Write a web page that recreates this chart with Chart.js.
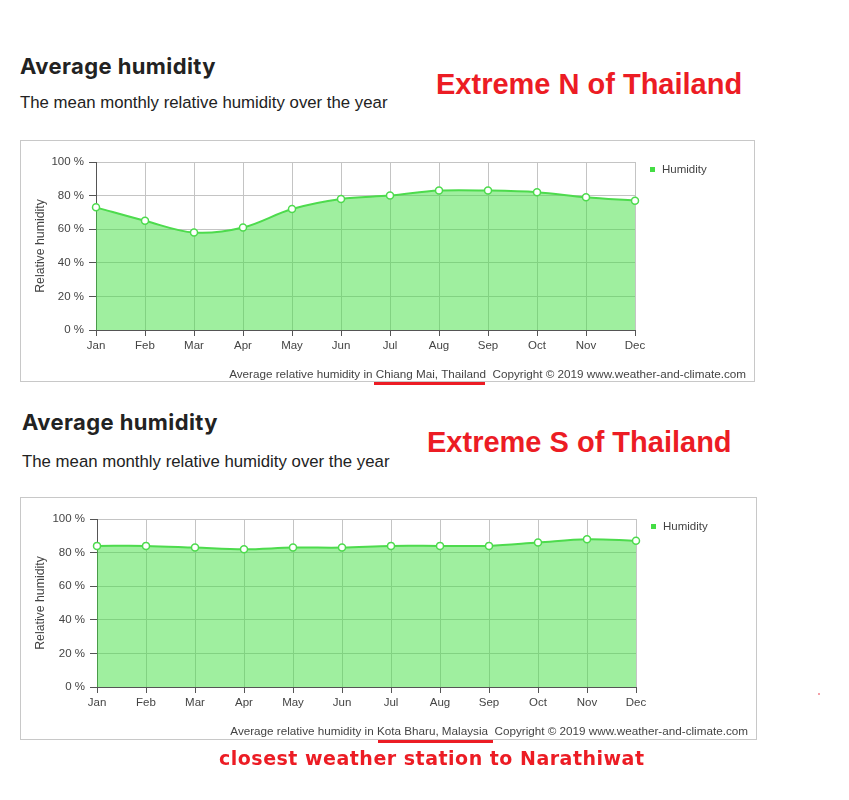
<!DOCTYPE html>
<html>
<head>
<meta charset="utf-8">
<title>Average humidity</title>
<script src="https://cdn.jsdelivr.net/npm/chart.js@4.4.1/dist/chart.umd.min.js"></script>
<style>
    body { margin: 0; background: #fff; width: 849px; height: 800px; position: relative; overflow: hidden; }
    .abs { position: absolute; white-space: nowrap; }
    .heading { font-family: Inter, "Open Sans", sans-serif; font-weight: 700; font-size: 22px; color: #222; letter-spacing: 0.4px; }
    .sub { font-family: "Liberation Sans", Arial, sans-serif; font-size: 16.8px; color: #222; }
    .red { font-family: "Liberation Sans", Arial, sans-serif; font-weight: 700; font-size: 29px; color: #ec1c24; }
    .red2 { font-family: "DejaVu Sans", Verdana, sans-serif; font-weight: 700; font-size: 19px; letter-spacing: 0.5px; color: #ec1c24; }
    .box { position: absolute; border: 1px solid #c8c8c8; box-sizing: border-box; }
    .box canvas { position: absolute; left: 0; top: 0; }
    .legend { position: absolute; font-family: "Liberation Sans", Arial, sans-serif; font-size: 11.5px; color: #444; }
    .legend i { display: inline-block; width: 5px; height: 5px; background: #44dd44; margin-right: 7px; vertical-align: 1px; }
    .caption { position: absolute; right: 8px; font-family: "Liberation Sans", Arial, sans-serif; font-size: 11.7px; color: #444; white-space: nowrap; }
    .uline { position: absolute; height: 3px; background: #ec1c24; }
</style>
</head>
<body>

<!-- الجزء العلوي: شمال تايلاند -->
<div class="abs heading" style="left:20px; top:53px;">Average humidity</div>
<div class="abs red" style="left:436px; top:68px;">Extreme N of Thailand</div>
<div class="abs sub" style="left:20px; top:93px;">The mean monthly relative humidity over the year</div>

<div class="box" style="left:20px; top:140px; width:735px; height:242px;">
    <canvas id="chartNorth" width="733" height="240"></canvas>
    <div class="legend" style="left:629px; top:22px;"><i></i>Humidity</div>
    <div class="caption" style="top:226px;">Average relative humidity in Chiang Mai, Thailand&nbsp;&nbsp;Copyright © 2019 www.weather-and-climate.com</div>
</div>
<div class="uline" style="left:374px; top:382px; width:111px;"></div>

<!-- الجزء السفلي: جنوب تايلاند -->
<div class="abs heading" style="left:22px; top:409px;">Average humidity</div>
<div class="abs red" style="left:427px; top:426px;">Extreme S of Thailand</div>
<div class="abs sub" style="left:22px; top:452px;">The mean monthly relative humidity over the year</div>

<div class="box" style="left:20px; top:497px; width:737px; height:243px;">
    <canvas id="chartSouth" width="735" height="241"></canvas>
    <div class="legend" style="left:630px; top:22px;"><i></i>Humidity</div>
    <div class="caption" style="top:226px;">Average relative humidity in Kota Bharu, Malaysia&nbsp;&nbsp;Copyright © 2019 www.weather-and-climate.com</div>
</div>
<div class="uline" style="left:378px; top:740px; width:115px;"></div>

<div class="abs red2" style="left:219px; top:747px;">closest weather station to Narathiwat</div>
<div class="abs" style="left:818px; top:693px; width:2px; height:2px; background:#f4a0a8;"></div>

<script>
// البيانات
const months = ['Jan', 'Feb', 'Mar', 'Apr', 'May', 'Jun', 'Jul', 'Aug', 'Sep', 'Oct', 'Nov', 'Dec'];
const humidityChiangMai = [73, 65, 58, 61, 72, 78, 80, 83, 83, 82, 79, 77];
const humidityKotaBharu = [84, 84, 83, 82, 83, 83, 84, 84, 84, 86, 88, 87];
const yTicks = [0, 20, 40, 60, 80, 100];

Chart.defaults.font.family = '"Liberation Sans", Arial, sans-serif';
Chart.defaults.font.size = 11.5;
Chart.defaults.color = '#444';

// إنشاء مخطط الرطوبة
function makeChart(canvasId, values, plot) {
    const ctx = document.getElementById(canvasId).getContext('2d');
    return new Chart(ctx, {
        type: 'line',
        data: {
            labels: months,
            datasets: [{
                label: 'Humidity',
                data: values,
                borderColor: '#4ddb4d',
                backgroundColor: 'rgba(64, 224, 64, 0.5)',
                borderWidth: 2,
                fill: 'origin',
                tension: 0.35,
                pointRadius: 3.5,
                pointBorderWidth: 1.5,
                pointBackgroundColor: '#fff',
                pointBorderColor: '#4ddb4d'
            }]
        },
        options: {
            responsive: false,
            animation: false,
            layout: { padding: { top: plot.top, right: plot.right, left: 0, bottom: 0 } },
            plugins: { legend: { display: false }, tooltip: { enabled: false } },
            scales: {
                x: {
                    grid: { color: '#c4c4c4', tickColor: '#555', tickLength: 6 },
                    border: { color: '#555', width: 1 },
                    ticks: { padding: 3, maxRotation: 0, autoSkip: false },
                    afterFit: (s) => { s.height = plot.bottom; }
                },
                y: {
                    min: 0,
                    max: 100,
                    afterBuildTicks: (s) => { s.ticks = yTicks.map(v => ({ value: v })); },
                    grid: { color: '#c4c4c4', tickColor: '#555', tickLength: 7 },
                    border: { color: '#555', width: 1 },
                    ticks: { padding: 5, callback: (v) => v + ' %' },
                    title: { display: true, text: 'Relative humidity', padding: { top: 12, bottom: 0 }, font: { size: 12.3 } },
                    afterFit: (s) => { s.width = plot.left; }
                }
            }
        }
    });
}

document.addEventListener('DOMContentLoaded', function() {
    makeChart('chartNorth', humidityChiangMai, { left: 75, top: 21, right: 119, bottom: 51 });
    makeChart('chartSouth', humidityKotaBharu, { left: 76, top: 21, right: 120, bottom: 52 });
});
</script>
</body>
</html>
